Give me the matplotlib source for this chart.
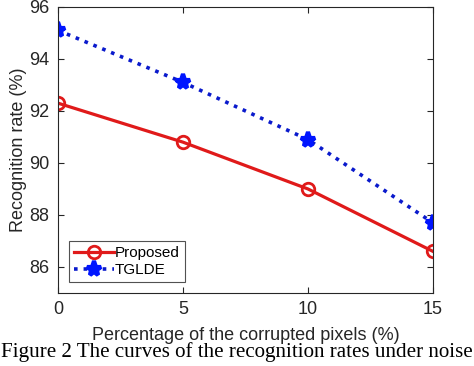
import matplotlib.pyplot as plt

corrupted = [0, 5, 10, 15]
proposed = [92.3, 90.8, 89.0, 86.6]
tglde = [95.1, 93.1, 90.9, 87.7]
yticks = [86, 88, 90, 92, 94, 96]

plt.rcParams['font.family'] = ['Liberation Sans', 'DejaVu Sans']

fig = plt.figure(figsize=(4.74, 3.66), dpi=100)
ax = fig.add_axes([0.1224, 0.1995, 0.791, 0.7815])

ax.plot(corrupted, proposed, color='#e01a1a', lw=2.3, marker='o', ms=9,
        mfc='none', mew=2.0, label='Proposed')
ax.plot(corrupted, tglde, color='#0a1acc', lw=2.6, ls=':', marker='*', ms=11,
        mfc='#0015ff', mec='#0015ff', mew=3.0, label='TGLDE')

ax.set_xlim(0, 15)
ax.set_ylim(85, 96)
ax.set_xticks(corrupted)
ax.set_yticks(yticks)
ax.tick_params(direction='in', top=True, right=True, labelsize=13,
               colors='#262626', length=4, pad=6)
for s in ax.spines.values():
    s.set_color('#262626')
    s.set_linewidth(0.8)

ax.set_xlabel('Percentage of the corrupted pixels (%)', fontsize=13, color='#262626', labelpad=6)
ax.set_ylabel('Recognition rate (%)', fontsize=13, color='#262626', labelpad=2)

leg = ax.legend(loc='lower left', fontsize=11, handlelength=2.6, handletextpad=0.1,
                borderpad=0.3, labelspacing=0.2, fancybox=False, borderaxespad=0,
                bbox_to_anchor=(0.03, 0.04))
leg.get_frame().set_edgecolor('#262626')
leg.get_frame().set_linewidth(0.8)

fig.text(0.5, 0.01, 'Figure 2 The curves of the recognition rates under noise',
         ha='center', va='bottom', fontsize=15.1, family='Liberation Serif')

fig.savefig('out.png', dpi=100)
